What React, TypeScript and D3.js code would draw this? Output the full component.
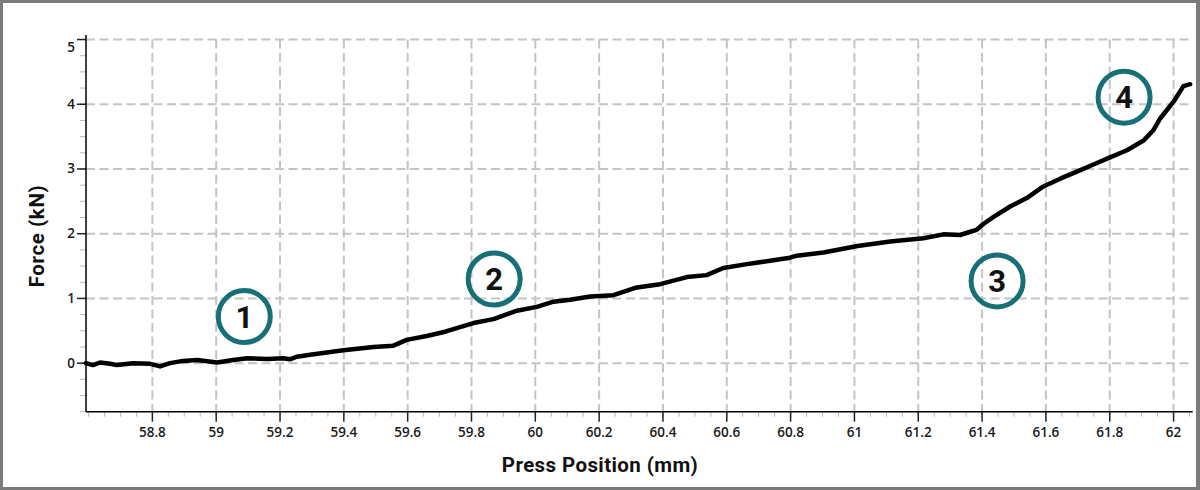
import React from "react";
import * as d3 from "d3";

// Press position (mm) vs force (kN)
const positions = [
  58.592, 58.614, 58.636, 58.667, 58.689, 58.74, 58.793, 58.824, 58.855, 58.896,
  58.94, 59.003, 59.053, 59.097, 59.16, 59.21, 59.231, 59.253, 59.294, 59.399,
  59.493, 59.555, 59.597, 59.66, 59.72, 59.806, 59.869, 59.942, 60.005, 60.057,
  60.109, 60.172, 60.245, 60.318, 60.391, 60.475, 60.537, 60.589, 60.663, 60.746,
  60.798, 60.819, 60.903, 61.01, 61.112, 61.216, 61.279, 61.331, 61.363, 61.383,
  61.404, 61.436, 61.488, 61.54, 61.592, 61.645, 61.697, 61.749, 61.801, 61.854,
  61.906, 61.937, 61.958, 62.0, 62.031, 62.052,
];
const forces = [
  0.0, -0.03, 0.01, -0.01, -0.03, 0.0, -0.01, -0.05, 0.0, 0.035,
  0.05, 0.01, 0.05, 0.077, 0.066, 0.077, 0.06, 0.1, 0.13, 0.2,
  0.25, 0.27, 0.36, 0.42, 0.49, 0.62, 0.68, 0.81, 0.87, 0.95,
  0.98, 1.03, 1.05, 1.17, 1.22, 1.33, 1.36, 1.47, 1.53, 1.59,
  1.63, 1.66, 1.71, 1.81, 1.88, 1.93, 1.99, 1.98, 2.03, 2.06,
  2.15, 2.26, 2.42, 2.55, 2.73, 2.85, 2.96, 3.07, 3.18, 3.29,
  3.44, 3.6, 3.78, 4.04, 4.28, 4.31,
];

const xTickValues = [58.8, 59, 59.2, 59.4, 59.6, 59.8, 60, 60.2, 60.4, 60.6, 60.8, 61, 61.2, 61.4, 61.6, 61.8, 62];
const yTickValues = [0, 1, 2, 3, 4, 5];

const markerLabels = ["1", "2", "3", "4"];
const markerX = [59.088, 59.871, 61.447, 61.845];
const markerY = [0.72, 1.3, 1.27, 4.11];

const xDomain = [58.592, 62.06];
const yDomain = [-0.75, 5.07];

export default function App() {
  const W = 1200;
  const H = 490;
  const x = d3.scaleLinear().domain(xDomain).range([86, 1192.7]);
  const y = d3.scaleLinear().domain(yDomain).range([411.7, 35]);
  const data = positions.map((p, i) => [p, forces[i]] as [number, number]);
  const line = d3
    .line<[number, number]>()
    .x((d) => x(d[0]))
    .y((d) => y(d[1]))
    .curve(d3.curveLinear);

  const xMinor = x.ticks(70).filter((v) => x(v) > 86.5);
  const yMinor = d3.range(-0.75, 5.01, 0.25);
  const left = x.range()[0];
  const right = x.range()[1];
  const bottom = y.range()[0];
  const top = y.range()[1];
  const gridTop = y(5);
  const teal = "#177078";
  const tickFont = "'Open Sans', sans-serif";
  const titleFont = "Roboto, sans-serif";

  return (
    <div style={{ position: "fixed", left: 0, top: 0, width: W, height: H }}>
      <svg width={W} height={H} style={{ display: "block" }}>
        <rect x={0} y={0} width={W} height={H} fill="#7b7b7b" />
        <rect x={3} y={3} width={W - 7} height={H - 6} fill="#ffffff" />

        {/* grid */}
        <g stroke="#c4c4c4" strokeWidth={2} strokeDasharray="9,4.5" fill="none">
          {yTickValues.map((v) => (
            <line key={"gy" + v} x1={left} x2={right - 4} y1={y(v)} y2={y(v)} />
          ))}
          {xTickValues.map((v) => (
            <line key={"gx" + v} x1={x(v)} x2={x(v)} y1={gridTop} y2={bottom} />
          ))}
        </g>

        {/* minor ticks */}
        <g stroke="#b9b9b9" strokeWidth={1}>
          {xMinor.map((v) => (
            <line key={"mx" + v} x1={x(v)} x2={x(v)} y1={bottom} y2={bottom + 5} />
          ))}
          {yMinor.map((v) => (
            <line key={"my" + v} x1={left - 6} x2={left} y1={y(v)} y2={y(v)} />
          ))}
        </g>

        {/* major ticks */}
        <g stroke="#222" strokeWidth={1.5}>
          {xTickValues.map((v) => (
            <line key={"tx" + v} x1={x(v)} x2={x(v)} y1={bottom} y2={bottom + 10} />
          ))}
          {yTickValues.map((v) => (
            <line key={"ty" + v} x1={left - 9} x2={left} y1={y(v)} y2={y(v)} />
          ))}
        </g>

        {/* axes lines */}
        <line x1={left} x2={left} y1={top} y2={bottom} stroke="#000" strokeWidth={1.5} />
        <line x1={left} x2={right} y1={bottom} y2={bottom} stroke="#000" strokeWidth={1.5} />

        {/* tick labels */}
        <g fontFamily={tickFont} fontWeight={600} fontSize={13.5} fill="#1a1a1a">
          {xTickValues.map((v) => (
            <text key={"lx" + v} x={x(v)} y={bottom + 25.5} textAnchor="middle">
              {String(v)}
            </text>
          ))}
          {yTickValues.map((v) => (
            <text
              key={"ly" + v}
              x={left - 11}
              y={y(v) + (v === 5 ? 12 : 4.5)}
              textAnchor="end"
            >
              {String(v)}
            </text>
          ))}
        </g>

        {/* axis titles */}
        <text
          x={600}
          y={471.5}
          textAnchor="middle"
          fontFamily={titleFont}
          fontWeight={700}
          fontSize={20.5}
          letterSpacing={0.4}
          fill="#111"
        >
          Press Position (mm)
        </text>
        <text
          transform={`translate(44,236) rotate(-90)`}
          textAnchor="middle"
          fontFamily={titleFont}
          fontWeight={700}
          fontSize={20.5}
          letterSpacing={0.6}
          fill="#111"
        >
          Force (kN)
        </text>

        {/* data line */}
        <path
          d={line(data) || ""}
          fill="none"
          stroke="#000"
          strokeWidth={4.5}
          strokeLinejoin="round"
          strokeLinecap="round"
        />

        {/* numbered markers */}
        {markerLabels.map((lab, i) => (
          <g key={"m" + lab} transform={`translate(${x(markerX[i])},${y(markerY[i])})`}>
            <circle r={26} fill="none" stroke={teal} strokeWidth={5} />
            <text
              textAnchor="middle"
              y={11}
              fontFamily={titleFont}
              fontWeight={700}
              fontSize={31}
              fill="#111"
            >
              {lab}
            </text>
          </g>
        ))}
      </svg>
    </div>
  );
}
